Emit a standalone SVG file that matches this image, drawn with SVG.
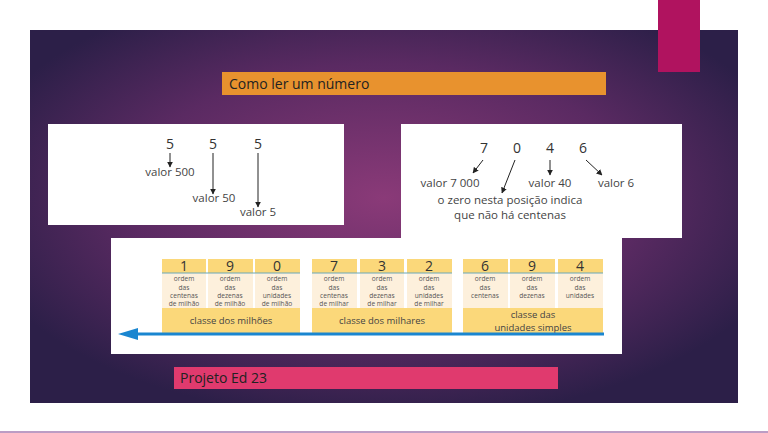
<svg xmlns="http://www.w3.org/2000/svg" width="768" height="433" viewBox="0 0 768 433">
<defs>
<radialGradient id="bg" cx="0.5" cy="0.45" r="0.6">
<stop offset="0" stop-color="#8a3a78"/><stop offset="0.6" stop-color="#5a2a62"/><stop offset="1" stop-color="#2c1f48"/>
</radialGradient>
<marker id="ah" viewBox="0 0 10 10" refX="9" refY="5" markerWidth="6" markerHeight="6" orient="auto"><path d="M0,0 L10,5 L0,10 z" fill="#222"/></marker>
</defs>
<style>
.t{font-family:"Open Sans","Liberation Sans",sans-serif;fill:#444}
.d{font-size:14px;text-anchor:middle;fill:#333;font-family:"Open Sans","Liberation Sans",sans-serif}
.o{font-size:6.6px;text-anchor:middle;fill:#555;font-family:"Open Sans","Liberation Sans",sans-serif}
.c{font-size:9.5px;text-anchor:middle;fill:#444;font-family:"Open Sans","Liberation Sans",sans-serif}
.v{font-size:11.5px;text-anchor:middle;fill:#444;font-family:"Open Sans","Liberation Sans",sans-serif}
.ar{stroke:#222;stroke-width:1;marker-end:url(#ah);fill:none}
.dg{fill:#fbd87a}.or{fill:#fdf0dc}.cl{fill:#fbd87a}
</style>
<rect width="768" height="433" fill="#fff"/>
<rect x="30" y="30" width="708" height="373" fill="url(#bg)"/>
<line x1="0" y1="432" x2="768" y2="432" stroke="#7a3a8a" stroke-width="1"/>
<rect x="658" y="0" width="42" height="72" fill="#b0135f"/>
<g id="title"><rect x="222" y="72" width="384" height="23" fill="#e8922e"/><text x="229" y="89" class="t" font-size="14" style="fill:#222">Como ler um número</text></g>
<g id="left">
<rect x="48" y="124" width="296" height="101" fill="#fff"/>
<text x="170" y="149" class="d">5</text>
<text x="213" y="149" class="d">5</text>
<text x="258" y="149" class="d">5</text>
<text x="170" y="176" class="v">valor 500</text>
<text x="214" y="202" class="v">valor 50</text>
<text x="258" y="216" class="v">valor 5</text>
</g>
<g id="right">
<rect x="401" y="124" width="281" height="114" fill="#fff"/>
<text x="484" y="153" class="d">7</text>
<text x="517" y="153" class="d">0</text>
<text x="550" y="153" class="d">4</text>
<text x="583" y="153" class="d">6</text>
<text x="450" y="187" class="v">valor 7 000</text>
<text x="550" y="187" class="v">valor 40</text>
<text x="616" y="187" class="v">valor 6</text>
<text x="510" y="204" class="v">o zero nesta posição indica</text>
<text x="510" y="219" class="v">que não há centenas</text>
</g>
<g id="table">
<rect x="111" y="238" width="511" height="116" fill="#fff"/>
<g>
<rect class="dg" x="162" y="259" width="44" height="14"/><rect class="dg" x="208" y="259" width="45" height="14"/><rect class="dg" x="255" y="259" width="45" height="14"/>
<rect class="dg" x="312" y="259" width="45" height="14"/><rect class="dg" x="360" y="259" width="44" height="14"/><rect class="dg" x="407" y="259" width="45" height="14"/>
<rect class="dg" x="463" y="259" width="45" height="14"/><rect class="dg" x="510" y="259" width="45" height="14"/><rect class="dg" x="558" y="259" width="45" height="14"/>
<rect class="or" x="162" y="273" width="44" height="35"/><rect class="or" x="208" y="273" width="45" height="35"/><rect class="or" x="255" y="273" width="45" height="35"/>
<rect class="or" x="312" y="273" width="45" height="35"/><rect class="or" x="360" y="273" width="44" height="35"/><rect class="or" x="407" y="273" width="45" height="35"/>
<rect class="or" x="463" y="273" width="45" height="35"/><rect class="or" x="510" y="273" width="45" height="35"/><rect class="or" x="558" y="273" width="45" height="35"/>
<g stroke="#6aa8b8" stroke-width="1"><line x1="162" y1="273" x2="300" y2="273"/><line x1="312" y1="273" x2="452" y2="273"/><line x1="463" y1="273" x2="603" y2="273"/></g>
<rect class="cl" x="162" y="308" width="138" height="26"/><rect class="cl" x="312" y="308" width="140" height="26"/><rect class="cl" x="463" y="308" width="140" height="26"/>
</g>
<text class="d" x="184" y="271">1</text><text class="d" x="230" y="271">9</text><text class="d" x="277" y="271">0</text>
<text class="d" x="334" y="271">7</text><text class="d" x="382" y="271">3</text><text class="d" x="429" y="271">2</text>
<text class="d" x="485" y="271">6</text><text class="d" x="532" y="271">9</text><text class="d" x="580" y="271">4</text>
<g class="o">
<text x="184" y="281">ordem</text><text x="184" y="289.5">das</text><text x="184" y="298">centenas</text><text x="184" y="306">de milhão</text>
<text x="230" y="281">ordem</text><text x="230" y="289.5">das</text><text x="230" y="298">dezenas</text><text x="230" y="306">de milhão</text>
<text x="277" y="281">ordem</text><text x="277" y="289.5">das</text><text x="277" y="298">unidades</text><text x="277" y="306">de milhão</text>
<text x="334" y="281">ordem</text><text x="334" y="289.5">das</text><text x="334" y="298">centenas</text><text x="334" y="306">de milhar</text>
<text x="382" y="281">ordem</text><text x="382" y="289.5">das</text><text x="382" y="298">dezenas</text><text x="382" y="306">de milhar</text>
<text x="429" y="281">ordem</text><text x="429" y="289.5">das</text><text x="429" y="298">unidades</text><text x="429" y="306">de milhar</text>
<text x="485" y="281">ordem</text><text x="485" y="289.5">das</text><text x="485" y="298">centenas</text>
<text x="532" y="281">ordem</text><text x="532" y="289.5">das</text><text x="532" y="298">dezenas</text>
<text x="580" y="281">ordem</text><text x="580" y="289.5">das</text><text x="580" y="298">unidades</text>
</g>
<text class="c" x="231" y="324">classe dos milhões</text>
<text class="c" x="382" y="324">classe dos milhares</text>
<text class="c" x="533" y="318">classe das</text>
<text class="c" x="533" y="331">unidades simples</text>
</g>
<g id="connectors">
<line class="ar" x1="170" y1="153" x2="170" y2="167"/>
<line class="ar" x1="213" y1="153" x2="213" y2="194"/>
<line class="ar" x1="258" y1="153" x2="258" y2="207"/>
<line class="ar" x1="483" y1="160" x2="473" y2="173"/>
<line class="ar" x1="515" y1="160" x2="502" y2="193"/>
<line class="ar" x1="550" y1="160" x2="550" y2="175"/>
<line class="ar" x1="586" y1="160" x2="602" y2="175"/>
<line x1="128" y1="334" x2="604" y2="334" stroke="#1a86d0" stroke-width="3"/>
<path d="M118,334 L138,328 L138,340 z" fill="#1a86d0"/>
</g>
<g id="footer"><rect x="174" y="367" width="384" height="22" fill="#e03a6e"/><text x="180" y="383" class="t" font-size="14" style="fill:#222">Projeto Ed 23</text></g>
</svg>
